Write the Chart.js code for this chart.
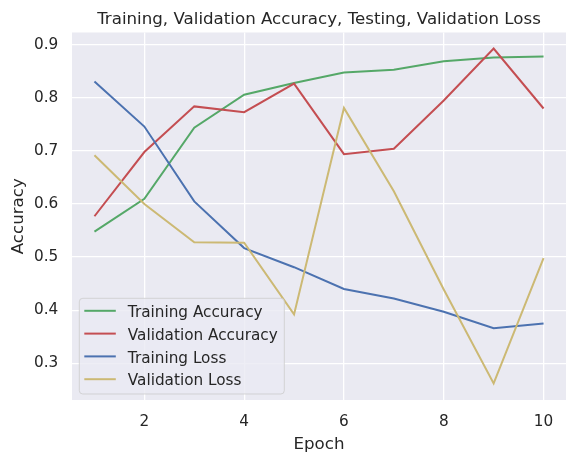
<!DOCTYPE html>
<html>
<head>
<meta charset="utf-8">
<script src="https://cdn.jsdelivr.net/npm/chart.js@4/dist/chart.umd.min.js"></script>
<style>
  html, body { margin: 0; padding: 0; background: #fff; }
  #wrap { width: 577px; height: 463px; }
</style>
</head>
<body>
<div id="wrap"><canvas id="chart" width="577" height="463"></canvas></div>
<script>
'use strict';

/* ---------- data ---------- */
const epochs    = [1, 2, 3, 4, 5, 6, 7, 8, 9, 10];
const trainAcc  = [0.548, 0.610, 0.744, 0.806, 0.828, 0.848, 0.853, 0.869, 0.876, 0.878];
const valAcc    = [0.577, 0.698, 0.784, 0.773, 0.827, 0.694, 0.704, 0.795, 0.893, 0.780];
const trainLoss = [0.831, 0.746, 0.605, 0.517, 0.481, 0.440, 0.422, 0.397, 0.366, 0.375];
const valLoss   = [0.692, 0.600, 0.528, 0.527, 0.392, 0.781, 0.624, 0.439, 0.262, 0.498];

const xTicks = [2, 4, 6, 8, 10];
const yTicks = [0.3, 0.4, 0.5, 0.6, 0.7, 0.8, 0.9];

const TITLE = 'Training, Validation Accuracy, Testing, Validation Loss';
const FONT  = "'DejaVu Sans', sans-serif";
const TEXT  = '#262626';
const PANEL = '#EAEAF2';
const TICK_SIZE  = 15.28;   // 11pt @ 100dpi
const LABEL_SIZE = 16.67;   // 12pt @ 100dpi

/* ---------- helpers ---------- */
function series(label, values, color, order) {
  return {
    label,
    data: epochs.map((e, i) => ({ x: e, y: values[i] })),
    borderColor: color,
    backgroundColor: color,
    borderWidth: 2,
    pointRadius: 0,
    tension: 0,
    fill: false,
    order,
  };
}

// axes background (seaborn darkgrid panel)
const panelBg = {
  id: 'panelBg',
  beforeDraw(chart) {
    const { ctx, chartArea: a } = chart;
    ctx.save();
    ctx.fillStyle = PANEL;
    ctx.fillRect(a.left, a.top, a.right - a.left, a.bottom - a.top);
    ctx.restore();
  }
};

// title centred over the axes, like matplotlib
const axesTitle = {
  id: 'axesTitle',
  afterDraw(chart) {
    const { ctx, chartArea: a } = chart;
    ctx.save();
    ctx.font = `${LABEL_SIZE}px ${FONT}`;
    ctx.fillStyle = TEXT;
    ctx.textAlign = 'center';
    ctx.textBaseline = 'alphabetic';
    ctx.fillText(TITLE, (a.left + a.right) / 2, 24);
    ctx.restore();
  }
};

// legend box in the lower-left corner of the axes
const innerLegend = {
  id: 'innerLegend',
  afterDatasetsDraw(chart) {
    const { ctx, chartArea: a } = chart;
    const x0 = a.left + 7.3, y0 = 298.3, w = 205, h = 95.7, r = 3.5;
    ctx.save();
    ctx.beginPath();
    ctx.roundRect(x0, y0, w, h, r);
    ctx.fillStyle = 'rgba(234,234,242,0.8)';
    ctx.fill();
    ctx.lineWidth = 1;
    ctx.strokeStyle = 'rgba(204,204,204,0.8)';
    ctx.stroke();

    ctx.font = `${TICK_SIZE}px ${FONT}`;
    ctx.fillStyle = TEXT;
    ctx.textAlign = 'left';
    ctx.textBaseline = 'alphabetic';
    chart.data.datasets.forEach((ds, i) => {
      const y = 310.8 + i * 22.8;
      ctx.beginPath();
      ctx.moveTo(x0 + 5, y);
      ctx.lineTo(x0 + 36.5, y);
      ctx.strokeStyle = ds.borderColor;
      ctx.lineWidth = 2;
      ctx.stroke();
      ctx.fillText(ds.label, x0 + 48.5, y + 6.2);
    });
    ctx.restore();
  }
};

/* ---------- chart ---------- */
new Chart(document.getElementById('chart'), {
  type: 'line',
  data: {
    datasets: [
      series('Training Accuracy',   trainAcc,  '#55A868', 4),
      series('Validation Accuracy', valAcc,    '#C44E52', 3),
      series('Training Loss',       trainLoss, '#4C72B0', 2),
      series('Validation Loss',     valLoss,   '#CCB974', 1),
    ]
  },
  options: {
    responsive: false,
    animation: false,
    events: [],
    layout: { padding: { top: 32.5, right: 11, left: 0, bottom: 0 } },
    plugins: {
      legend:  { display: false },
      title:   { display: false },
      tooltip: { enabled: false },
    },
    scales: {
      x: {
        type: 'linear',
        min: 0.55,
        max: 10.45,
        afterBuildTicks: s => { s.ticks = xTicks.map(v => ({ value: v })); },
        afterFit: s => { s.height = 63; },
        grid:   { color: '#ffffff', lineWidth: 1.3, drawTicks: false },
        border: { display: false },
        ticks:  { color: TEXT, font: { family: FONT, size: TICK_SIZE }, padding: 12.5, maxRotation: 0, callback: v => String(v) },
        title:  { display: true, text: 'Epoch', color: TEXT, font: { family: FONT, size: LABEL_SIZE }, padding: { top: 0, bottom: 8.7 } },
      },
      y: {
        type: 'linear',
        min: 0.2308,
        max: 0.9232,
        afterBuildTicks: s => { s.ticks = yTicks.map(v => ({ value: v })); },
        afterFit: s => { s.width = 72; },
        grid:   { color: '#ffffff', lineWidth: 1.3, drawTicks: false },
        border: { display: false },
        ticks:  { color: TEXT, font: { family: FONT, size: TICK_SIZE }, padding: 13.7, callback: v => v.toFixed(1) },
        title:  { display: true, text: 'Accuracy', color: TEXT, font: { family: FONT, size: LABEL_SIZE }, padding: { top: 8.5, bottom: 0 } },
      }
    }
  },
  plugins: [panelBg, axesTitle, innerLegend]
});
</script>
</body>
</html>
